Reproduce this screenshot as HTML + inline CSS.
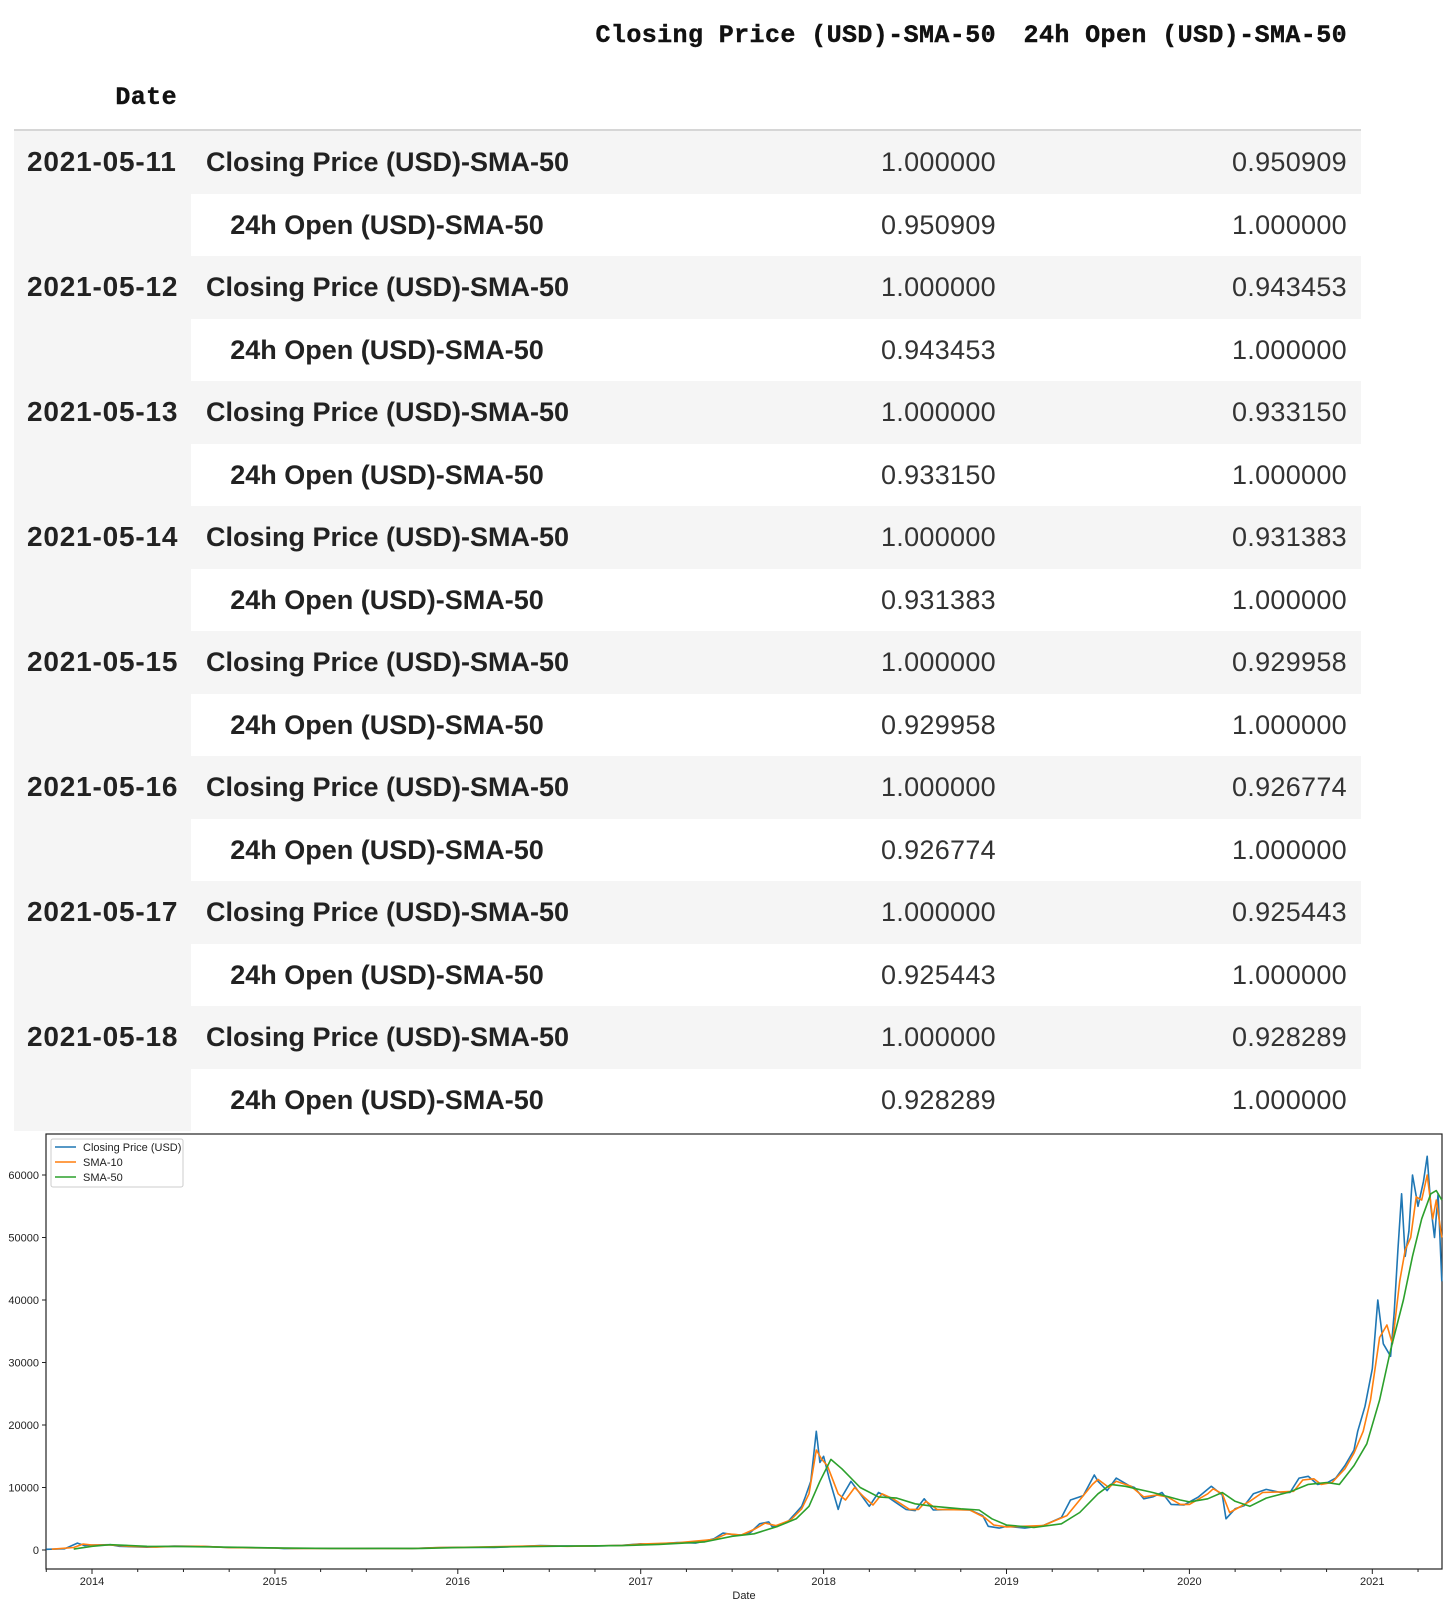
<!DOCTYPE html>
<html><head><meta charset="utf-8"><style>
body{margin:0;width:1447px;height:1607px;background:#fff;position:relative;overflow:hidden;font-family:"Liberation Sans",sans-serif}
.hd{position:absolute;font-family:"Liberation Mono",monospace;font-weight:bold;font-size:25px;letter-spacing:0.4px;color:#111;white-space:nowrap;line-height:30px;-webkit-text-stroke:0.4px #111}
.row{position:absolute;left:14px;width:1347px;height:62.5px}
.t{position:absolute;white-space:nowrap;font-size:27px;line-height:30px;top:16px}
.b{font-weight:bold;color:#222}
.v{color:#333}
.dt{font-size:28px;letter-spacing:0.8px}
</style></head><body>
<div class="hd" style="left:560px;top:21px;width:436px;text-align:right">Closing Price (USD)-SMA-50</div>
<div class="hd" style="left:1000px;top:21px;width:347px;text-align:right">24h Open (USD)-SMA-50</div>
<div class="hd" style="left:60px;top:83px;width:117px;text-align:right">Date</div>
<div style="position:absolute;left:14px;top:129px;width:1347px;height:2px;background:#d6d6d6"></div>
<div id="tbl"></div>
<svg id="chart" width="1447" height="1607" style="position:absolute;left:0;top:0"></svg>
<script>
const dates=["2021-05-11","2021-05-12","2021-05-13","2021-05-14","2021-05-15","2021-05-16","2021-05-17","2021-05-18"];
const corr=["0.950909","0.943453","0.933150","0.931383","0.929958","0.926774","0.925443","0.928289"];
const tbl=document.getElementById('tbl');
let h='';
dates.forEach((d,i)=>{
 const top=131+i*125;
 h+=`<div class="row" style="top:${top}px;background:#f5f5f5">
 <div class="t b dt" style="left:13px">${d}</div>
 <div class="t b" style="left:192px;width:362px;text-align:center">Closing Price (USD)-SMA-50</div>
 <div class="t v" style="left:782px;width:200px;text-align:right;letter-spacing:0.3px">1.000000</div>
 <div class="t v" style="left:1133px;width:200px;text-align:right;letter-spacing:0.3px">${corr[i]}</div></div>`;
 h+=`<div class="row" style="top:${top+62.5}px;background:#fff">
 <div style="position:absolute;left:0;top:0;width:177px;height:62.5px;background:#f5f5f5"></div>
 <div class="t b" style="left:192px;width:362px;text-align:center">24h Open (USD)-SMA-50</div>
 <div class="t v" style="left:782px;width:200px;text-align:right;letter-spacing:0.3px">${corr[i]}</div>
 <div class="t v" style="left:1133px;width:200px;text-align:right;letter-spacing:0.3px">1.000000</div></div>`;
});
tbl.innerHTML=h;
</script>
<script>
const closeT=[2013.75,2013.85,2013.92,2013.96,2014.0,2014.1,2014.15,2014.3,2014.45,2014.6,2014.75,2014.9,2015.0,2015.05,2015.2,2015.4,2015.5,2015.6,2015.75,2015.85,2016.0,2016.2,2016.45,2016.55,2016.75,2016.9,2017.0,2017.05,2017.2,2017.3,2017.4,2017.45,2017.5,2017.55,2017.6,2017.65,2017.7,2017.72,2017.8,2017.85,2017.88,2017.9,2017.93,2017.96,2017.98,2018.0,2018.03,2018.08,2018.1,2018.15,2018.2,2018.25,2018.3,2018.35,2018.45,2018.5,2018.55,2018.6,2018.7,2018.8,2018.87,2018.9,2018.96,2019.0,2019.1,2019.2,2019.3,2019.35,2019.42,2019.48,2019.5,2019.55,2019.6,2019.67,2019.7,2019.75,2019.8,2019.85,2019.9,2019.97,2020.05,2020.12,2020.18,2020.2,2020.25,2020.3,2020.35,2020.42,2020.5,2020.55,2020.6,2020.65,2020.7,2020.75,2020.8,2020.85,2020.9,2020.92,2020.96,2021.0,2021.03,2021.06,2021.1,2021.12,2021.14,2021.16,2021.18,2021.2,2021.22,2021.25,2021.28,2021.3,2021.32,2021.34,2021.36,2021.38];
const closeV=[120,200,1100,700,800,850,600,450,620,590,380,350,320,220,270,240,260,280,240,360,430,420,700,660,620,750,1000,900,1200,1100,1800,2700,2500,2400,2800,4200,4500,3700,4400,6000,7000,8500,11000,19000,14000,15000,11500,6500,8500,11000,9000,7000,9200,8500,6500,6300,8200,6400,6500,6400,5500,3800,3500,3800,3500,3900,5200,8000,8700,12000,11000,9500,11500,10300,10000,8200,8500,9200,7300,7200,8500,10200,8800,5000,6600,7100,9000,9700,9200,9200,11500,11800,10500,10700,11500,13500,16000,19000,23000,29000,40000,33000,31000,38000,48000,57000,47000,51000,60000,55000,59000,63000,55000,50000,57000,43000];
const sma10T=[2013.78,2013.9,2013.95,2014.0,2014.1,2014.2,2014.35,2014.45,2014.6,2014.75,2015.0,2015.1,2015.4,2015.75,2015.9,2016.0,2016.45,2016.6,2016.9,2017.0,2017.2,2017.4,2017.47,2017.55,2017.62,2017.68,2017.74,2017.82,2017.88,2017.92,2017.96,2017.99,2018.02,2018.08,2018.12,2018.17,2018.22,2018.27,2018.32,2018.38,2018.47,2018.52,2018.56,2018.62,2018.8,2018.88,2018.93,2019.0,2019.2,2019.33,2019.4,2019.47,2019.5,2019.56,2019.6,2019.68,2019.75,2019.82,2019.88,2019.95,2020.0,2020.1,2020.13,2020.18,2020.22,2020.27,2020.33,2020.4,2020.5,2020.57,2020.62,2020.68,2020.72,2020.78,2020.85,2020.9,2020.95,2020.99,2021.04,2021.08,2021.11,2021.15,2021.18,2021.21,2021.24,2021.27,2021.3,2021.33,2021.35,2021.38];
const sma10V=[130,400,950,800,820,600,470,600,590,390,320,240,240,240,380,420,680,600,740,950,1150,1700,2600,2400,3300,4300,3900,4800,6600,9000,16000,14500,13500,9000,8000,10000,8500,7200,9000,8200,6500,6500,7800,6500,6400,5200,4000,3700,3900,5500,8000,10500,11300,10000,11000,10200,8500,8800,8500,7300,7300,9000,9800,9000,6000,6800,7800,9200,9300,9400,11200,11400,10500,10800,13000,15500,19000,24000,34000,36000,33000,43000,48000,50000,56500,56000,60000,53000,56000,50000];
const sma50T=[2013.9,2014.0,2014.1,2014.3,2014.5,2014.75,2015.0,2015.3,2015.8,2016.0,2016.5,2016.9,2017.1,2017.35,2017.5,2017.62,2017.75,2017.85,2017.92,2017.98,2018.04,2018.1,2018.2,2018.3,2018.4,2018.5,2018.6,2018.75,2018.85,2018.92,2019.0,2019.15,2019.3,2019.4,2019.5,2019.57,2019.65,2019.8,2019.95,2020.0,2020.1,2020.18,2020.25,2020.33,2020.42,2020.55,2020.65,2020.75,2020.82,2020.9,2020.97,2021.04,2021.1,2021.17,2021.22,2021.27,2021.32,2021.35,2021.38];
const sma50V=[150,600,850,600,550,450,330,250,250,380,600,700,900,1300,2200,2600,3800,5000,7000,11000,14500,13000,10000,8500,8300,7400,7000,6600,6400,5000,4000,3600,4200,6000,9000,10500,10200,9200,8000,7700,8200,9200,7800,7000,8300,9300,10500,10800,10500,13500,17000,24000,32000,40000,47000,53000,57000,57500,56000];
const yTicks=[0,10000,20000,30000,40000,50000,60000];
const xTicks=[2014,2015,2016,2017,2018,2019,2020,2021];
const L=46,R=1442,T=1134,B=1569;
const xs=t=>92+(t-2014)*182.9;
const ys=v=>1550-v*0.00625;
const svg=document.getElementById('chart');
const NS='http://www.w3.org/2000/svg';
function mk(tag,attrs,parent){const e=document.createElementNS(NS,tag);for(const k in attrs)e.setAttribute(k,attrs[k]);(parent||svg).appendChild(e);return e;}
const frame=mk('rect',{x:L,y:T,width:R-L,height:B-T,fill:'#fff',stroke:'#222','stroke-width':1.2});


function line(T_,V_,col,name,w){const p=T_.map((t,i)=>xs(t).toFixed(1)+','+ys(V_[i]).toFixed(1)).join(' ');
 const e=mk('polyline',{points:p,fill:'none',stroke:col,'stroke-width':w,'stroke-linejoin':'round'});
 
 }
line(closeT,closeV,'#1f77b4','closing-price-line',1.6);
line(sma10T,sma10V,'#ff7f0e','sma-10-line',1.6);
line(sma50T,sma50V,'#2ca02c','sma-50-line',1.6);
yTicks.forEach(v=>{mk('line',{x1:L-4,x2:L,y1:ys(v),y2:ys(v),stroke:'#222'});
 const t=mk('text',{x:L-7,y:ys(v)+4,'text-anchor':'end','font-size':11,'font-family':'Liberation Sans, sans-serif',fill:'#222'});t.textContent=v;
 
 });
for(let q=2013.75;q<=2021.38;q+=0.25){mk('line',{x1:xs(q),x2:xs(q),y1:B,y2:B+(Math.abs(q-Math.round(q))<0.01?5:3),stroke:'#222'});}
xTicks.forEach(y=>{const t=mk('text',{x:xs(y),y:B+16,'text-anchor':'middle','font-size':11,'font-family':'Liberation Sans, sans-serif',fill:'#222'});t.textContent=y;
 
 });
const xt=mk('text',{x:(L+R)/2,y:B+30,'text-anchor':'middle','font-size':11,'font-family':'Liberation Sans, sans-serif',fill:'#222'});xt.textContent='Date';


const lg=mk('g',{});


mk('rect',{x:51,y:1139,width:132,height:48,rx:2,fill:'#fff',stroke:'#ccc'},lg);
[['Closing Price (USD)','#1f77b4'],['SMA-10','#ff7f0e'],['SMA-50','#2ca02c']].forEach((d,i)=>{const y=1147+i*15;
 mk('line',{x1:55,x2:76,y1:y,y2:y,stroke:d[1],'stroke-width':1.6},lg);
 const t=mk('text',{x:83,y:y+4,'font-size':11,'font-family':'Liberation Sans, sans-serif',fill:'#222'},lg);t.textContent=d[0];
 
 });
</script>
</body></html>
